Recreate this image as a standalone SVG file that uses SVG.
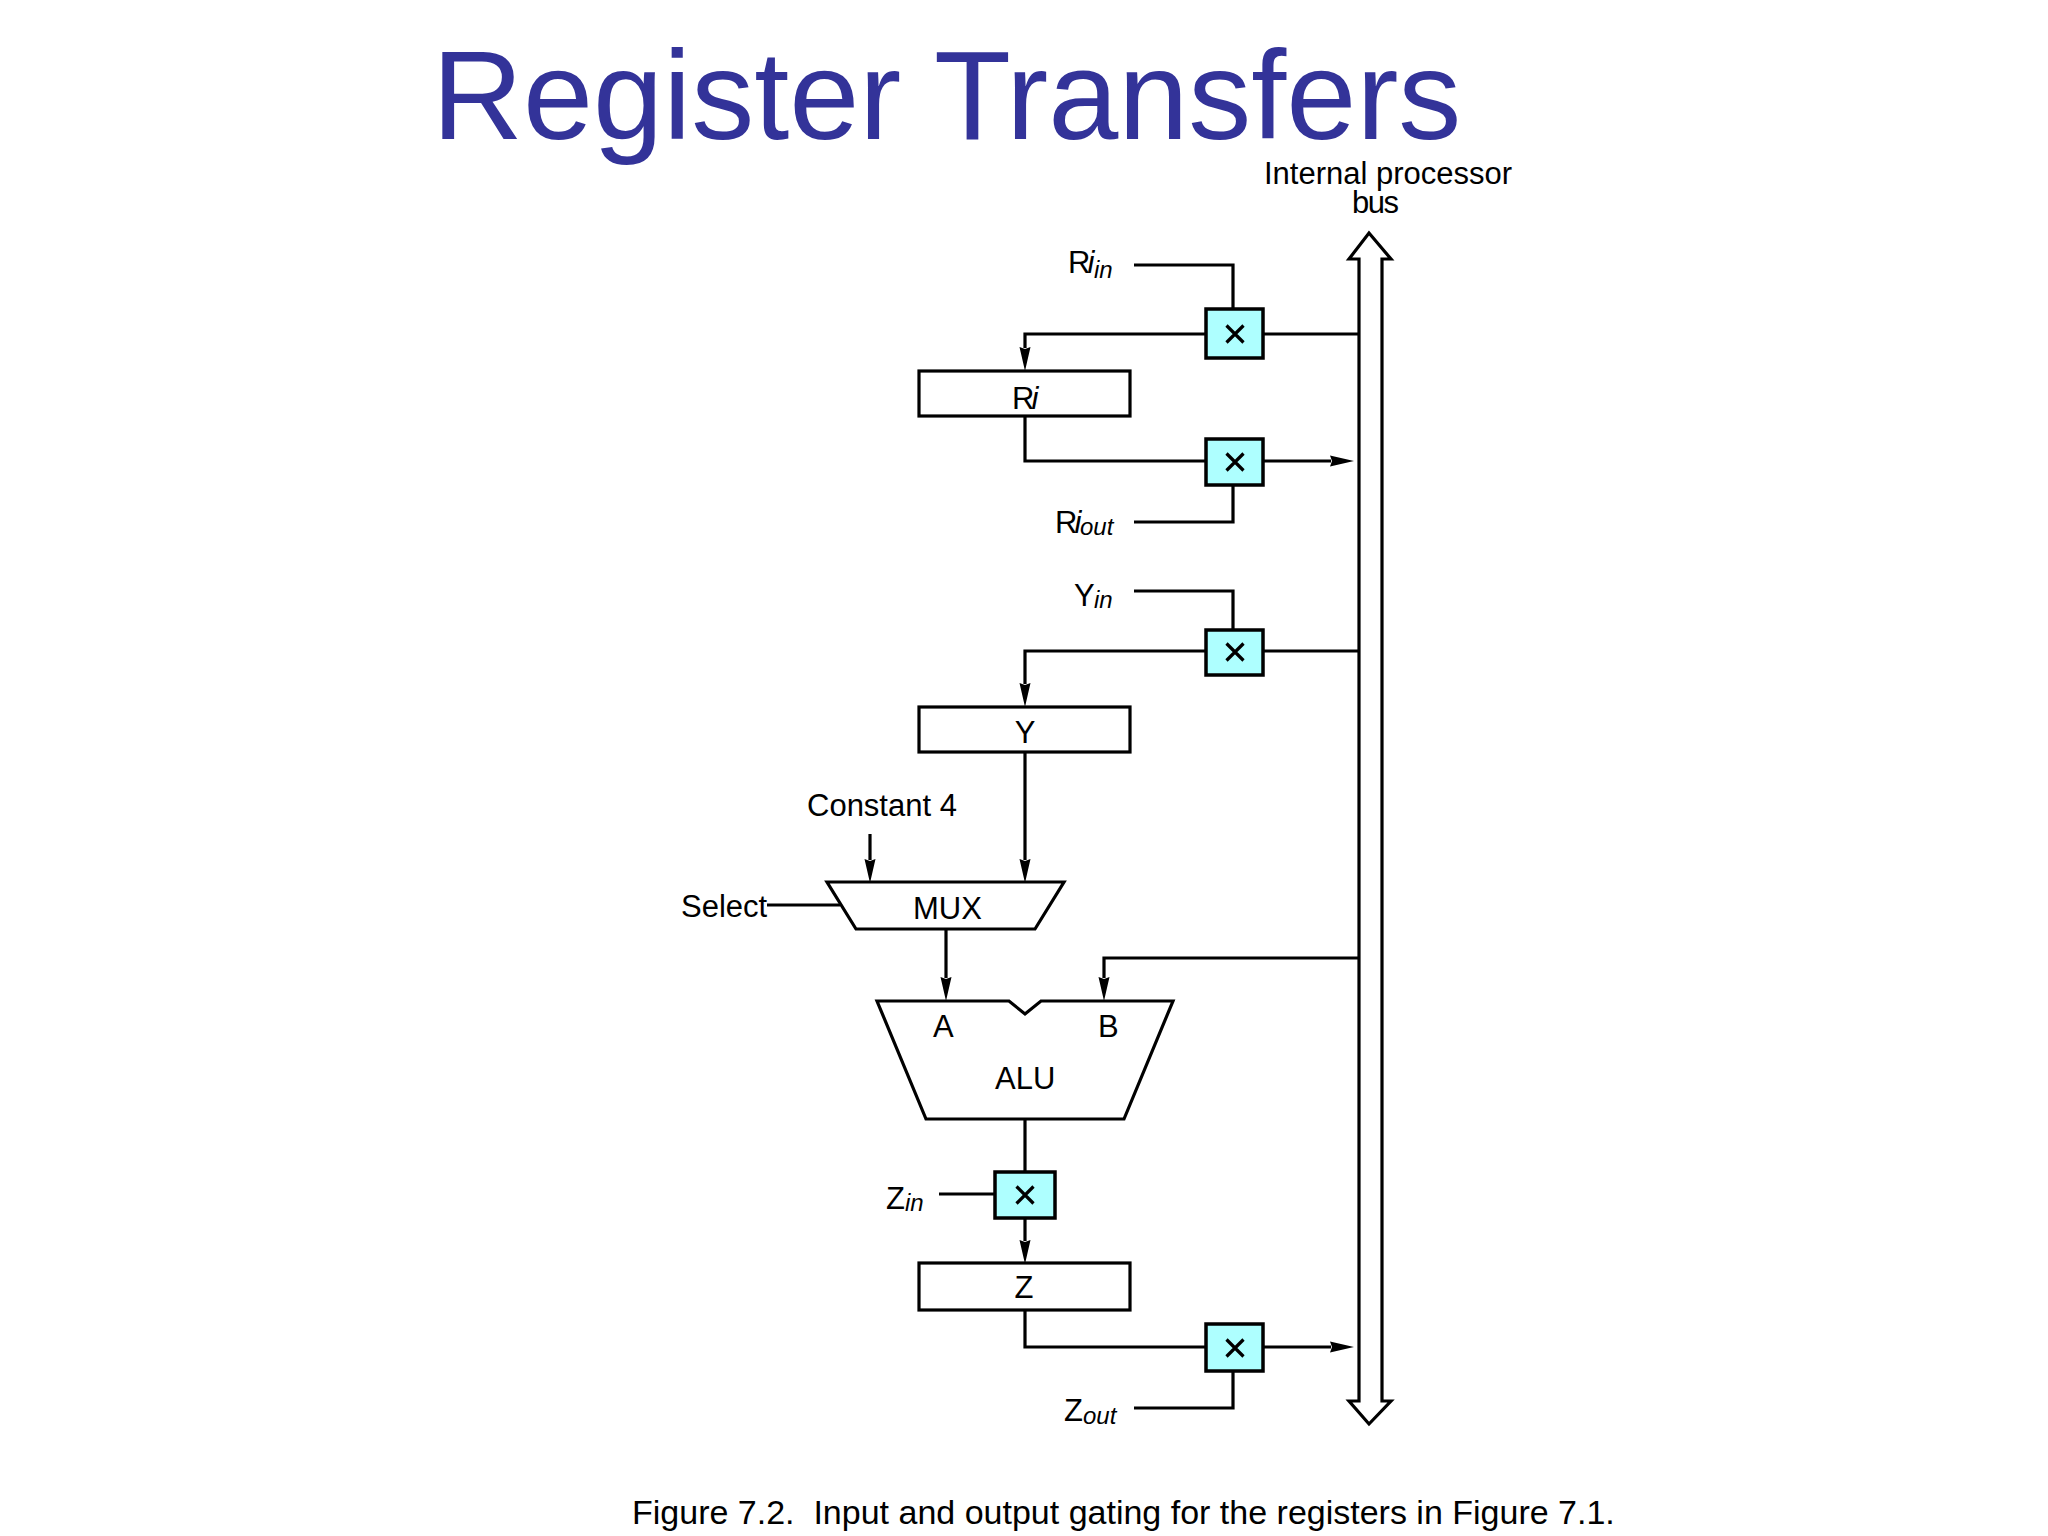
<svg xmlns="http://www.w3.org/2000/svg" width="2048" height="1536" viewBox="0 0 2048 1536">
<style>
text{font-family:"Liberation Sans",Arial,sans-serif;font-size:31px;fill:#000;white-space:pre}
.title{font-size:126px;fill:#333399}
.sub{font-size:24px;font-style:italic}
.it{font-style:italic}
.c{text-anchor:middle}
.w{fill:none;stroke:#000;stroke-width:3.2}
.n{fill:#fff;stroke:#000;stroke-width:3.2}
.g{fill:#aeffff;stroke:#000;stroke-width:3.5}
.x{fill:none;stroke:#000;stroke-width:3.2}
.cap{font-size:34px}
</style>
<defs>
<marker id="ah" markerUnits="userSpaceOnUse" markerWidth="26" markerHeight="12" viewBox="0 0 24 12" refX="1" refY="6" orient="auto"><path d="M0 .5L24 6L0 11.500L2 6Z" fill="#000"/></marker>
<path id="cross" d="M-8.500-8.500L8.500 8.500M-8.500 8.500L8.500-8.500" class="x"/>
</defs>
<rect width="2048" height="1536" fill="#fff"/>
<text id="title" class="title" x="432" y="139">Register Transfers</text>
<text id="label-bus" x="1264" y="184">Internal processor</text>
<text id="label-bus2" x="1352" y="213" letter-spacing="-1.500">bus</text>
<g id="bus"><path class="n" d="M1359 259H1349L1369 233L1391 259H1382V1401H1391L1369 1424L1349 1401H1359Z"/></g>
<g id="gate-ri-in"><rect class="g" x="1206" y="309" width="57" height="49"/><use href="#cross" x="1235" y="334"/></g>
<g id="reg-ri"><rect class="n" x="919" y="371" width="211" height="45"/><text x="1012" y="409">R<tspan class="it" dx="-3">i</tspan></text></g>
<g id="gate-ri-out"><rect class="g" x="1206" y="439" width="57" height="46"/><use href="#cross" x="1235" y="462"/></g>
<g id="label-ri-in"><text x="1068" y="273">R<tspan class="it" dx="-3">i</tspan></text><text class="sub" x="1094" y="278">in</text></g>
<g id="label-ri-out"><text x="1055" y="533">R<tspan class="it" dx="-3">i</tspan></text><text class="sub" x="1080" y="535">out</text></g>
<g id="gate-y-in"><rect class="g" x="1206" y="630" width="57" height="45"/><use href="#cross" x="1235" y="652"/></g>
<g id="label-y-in"><text x="1074" y="606">Y</text><text class="sub" x="1094" y="608">in</text></g>
<g id="reg-y"><rect class="n" x="919" y="707" width="211" height="45"/><text class="c" x="1025" y="743">Y</text></g>
<text id="label-const" x="807" y="816">Constant 4</text>
<text id="label-select" x="681" y="917">Select</text>
<g id="mux"><path class="n" d="M827 882H1064L1035 929H856Z"/><text x="913" y="919">MUX</text></g>
<g id="alu"><path class="n" d="M877 1001H1009L1025 1014L1041 1001H1173L1124 1119H926Z"/><text x="933" y="1037">A</text><text x="1098" y="1037">B</text><text x="995" y="1089">ALU</text></g>
<g id="gate-z-in"><rect class="g" x="995" y="1172" width="60" height="46"/><use href="#cross" x="1025" y="1195"/></g>
<g id="label-z-in"><text x="886" y="1209">Z</text><text class="sub" x="905" y="1211">in</text></g>
<g id="reg-z"><rect class="n" x="919" y="1263" width="211" height="47"/><text class="c" x="1024" y="1298">Z</text></g>
<g id="gate-z-out"><rect class="g" x="1206" y="1324" width="57" height="47"/><use href="#cross" x="1235" y="1348"/></g>
<g id="label-z-out"><text x="1064" y="1421">Z</text><text class="sub" x="1083" y="1424">out</text></g>
<text id="caption" class="cap" x="632" y="1524">Figure 7.2.  Input and output gating for the registers in Figure 7.1.</text>
<g id="connectors">
<path class="w" d="M1134 265H1233V309"/>
<path class="w" d="M1206 334H1025V348" marker-end="url(#ah)"/>
<path class="w" d="M1263 334H1359"/>
<path class="w" d="M1025 416V461H1206"/>
<path class="w" d="M1263 461H1331" marker-end="url(#ah)"/>
<path class="w" d="M1134 522H1233V485"/>
<path class="w" d="M1134 591H1233V630"/>
<path class="w" d="M1206 651H1025V684" marker-end="url(#ah)"/>
<path class="w" d="M1263 651H1359"/>
<path class="w" d="M1025 752V860" marker-end="url(#ah)"/>
<path class="w" d="M870 834V860" marker-end="url(#ah)"/>
<path class="w" d="M767 905H840"/>
<path class="w" d="M946 929V978" marker-end="url(#ah)"/>
<path class="w" d="M1359 958H1104V978" marker-end="url(#ah)"/>
<path class="w" d="M1025 1119V1172"/>
<path class="w" d="M939 1194H995"/>
<path class="w" d="M1025 1218V1241" marker-end="url(#ah)"/>
<path class="w" d="M1025 1310V1347H1206"/>
<path class="w" d="M1263 1347H1331" marker-end="url(#ah)"/>
<path class="w" d="M1134 1408H1233V1371"/>
</g>
</svg>
